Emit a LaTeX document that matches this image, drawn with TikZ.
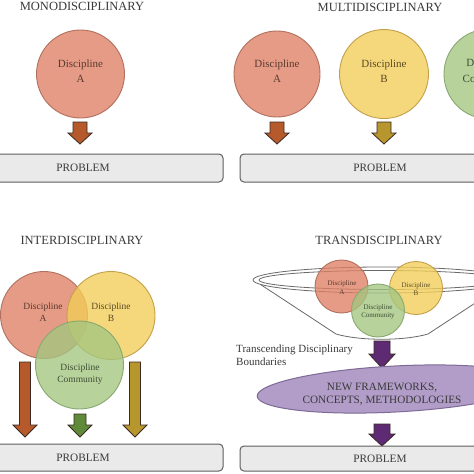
\documentclass[tikz,border=0pt]{standalone}
\usepackage{fontspec}
\setmainfont{Liberation Serif}
\usetikzlibrary{shapes.geometric}
\definecolor{cA}{HTML}{DE8063}
\definecolor{bA}{HTML}{B2705E}
\definecolor{cB}{HTML}{F3CE58}
\definecolor{bB}{HTML}{C4A04A}
\definecolor{cC}{HTML}{A3C680}
\definecolor{bC}{HTML}{8AA872}
\definecolor{tA}{HTML}{5B3A2E}
\definecolor{tB}{HTML}{5A4A24}
\definecolor{tC}{HTML}{3E4E34}
\definecolor{ttlgray}{HTML}{3A3A3A}
\definecolor{boxfill}{HTML}{EAEAEA}
\definecolor{boxdraw}{HTML}{5E5E5E}
\definecolor{arrA}{HTML}{B65A2C}
\definecolor{arrB}{HTML}{B8962E}
\definecolor{arrC}{HTML}{5F8A3A}
\definecolor{arrP}{HTML}{5E2A74}
\definecolor{arrdraw}{HTML}{3A2A22}
\definecolor{ellfill}{HTML}{B29CC8}
\definecolor{elldraw}{HTML}{7E6A96}
\definecolor{funnel}{HTML}{6A6A6A}
\newcommand{\blkarrow}[7]{%
  \filldraw[fill=#7, draw=arrdraw, line width=0.8, line join=miter]
    (#1-#5,#2) -- (#1+#5,#2) -- (#1+#5,#3) -- (#1+#6,#3) -- (#1,#4)
    -- (#1-#6,#3) -- (#1-#5,#3) -- cycle;}
\begin{document}
\begin{tikzpicture}[x=1pt,y=-1pt,
  ttl/.style={text=ttlgray, font=\fontsize{12.5}{14}\selectfont, inner sep=0},
  disc/.style={circle, inner sep=0, line width=0.9, fill opacity=0.78},
  dA/.style={disc, draw=bA, fill=cA},
  dB/.style={disc, draw=bB, fill=cB},
  dC/.style={disc, draw=bC, fill=cC},
  lbl/.style={align=center, inner sep=0},
  probbox/.style={draw=boxdraw, fill=boxfill, rounded corners=4, line width=1,
    minimum width=280, text=ttlgray, font=\fontsize{11.3}{13}\selectfont}]
\useasboundingbox (0,0) rectangle (474,474);
\clip (0,0) rectangle (474,474);
\fill[white] (0,0) rectangle (474,474);

% ---------- MONODISCIPLINARY ----------
\node[ttl] (t1) at (82,6) {MONODISCIPLINARY};
\node[dA, minimum size=88] (mA) at (80.5,74) {};
\node[lbl, text=tA, font=\fontsize{11}{15.5}\selectfont] (mAt) at (80.5,71) {Discipline\\A};
\blkarrow{80}{122}{133}{144}{7}{12}{arrA}
\node[probbox, minimum height=28] (mP) at (83,168) {PROBLEM};

% ---------- MULTIDISCIPLINARY ----------
\node[ttl] (t2) at (380,7) {MULTIDISCIPLINARY};
\node[dA, minimum size=86] (uA) at (277,74) {};
\node[lbl, text=tA, font=\fontsize{11}{15.5}\selectfont] (uAt) at (277,71) {Discipline\\A};
\node[dB, minimum size=89] (uB) at (384,74) {};
\node[lbl, text=tB, font=\fontsize{11}{15.5}\selectfont] (uBt) at (384,71) {Discipline\\B};
\node[dC, minimum size=90] (uC) at (489,74) {};
\node[lbl, text=tC, font=\fontsize{11}{15.5}\selectfont] (uCt) at (489,72) {Discipline\\Community};
\blkarrow{277}{122}{133}{144}{7}{12}{arrA}
\blkarrow{384}{122}{133}{144}{7}{12}{arrB}
\node[probbox, minimum height=28] (uP) at (380,168) {PROBLEM};

% ---------- INTERDISCIPLINARY ----------
\node[ttl] (t3) at (82,240) {INTERDISCIPLINARY};
\node[dA, minimum size=87] (iA) at (44,315) {};
\node[dB, minimum size=88] (iB) at (111,315.5) {};
\node[dC, minimum size=88] (iC) at (79.5,365) {};
\node[lbl, text=tA, font=\fontsize{9.5}{11.5}\selectfont] (iAt) at (43,312) {Discipline\\A};
\node[lbl, text=tB, font=\fontsize{9.5}{11.5}\selectfont] (iBt) at (111,312) {Discipline\\B};
\node[lbl, text=tC, font=\fontsize{9.5}{12}\selectfont] (iCt) at (80,374) {Discipline\\Community};
\blkarrow{25}{362}{425}{437}{5.5}{12}{arrA}
\blkarrow{80}{414}{425}{437}{6}{12}{arrC}
\blkarrow{135}{362}{425}{437}{5.5}{12}{arrB}
\node[probbox, minimum height=27] (iP) at (83,457.5) {PROBLEM};

% ---------- TRANSDISCIPLINARY ----------
\node[ttl] (t4) at (379,240) {TRANSDISCIPLINARY};
\draw[funnel, line width=0.8] (382,280) ellipse [x radius=129, y radius=13];
\draw[funnel, line width=0.8] (382,280) ellipse [x radius=123, y radius=9.5];
\draw[funnel, line width=0.8] (261,284.8) -- (336,334)
  .. controls (360,341) and (404,341) .. (428,334) -- (503,284.8);
\node[dA, minimum size=53] (rA) at (341.5,286.5) {};
\node[dB, minimum size=53] (rB) at (416,288) {};
\node[dC, minimum size=53] (rC) at (378,310.5) {};
\node[lbl, text=tA, font=\fontsize{7}{8.5}\selectfont] (rAt) at (342,287.5) {Discipline\\A};
\node[lbl, text=tB, font=\fontsize{7}{8.5}\selectfont] (rBt) at (416,289) {Discipline\\B};
\node[lbl, text=tC, font=\fontsize{7}{8.5}\selectfont] (rCt) at (378,312) {Discipline\\Community};
\node[anchor=west, align=left, inner sep=0, text=ttlgray,
  font=\fontsize{11}{13}\selectfont] (tb) at (236,355.5) {Transcending Disciplinary\\Boundaries};
\blkarrow{382}{341}{354}{368}{8}{13}{arrP}
\node[ellipse, draw=elldraw, fill=ellfill, line width=1, rotate=3,
  minimum width=276, minimum height=46, inner sep=0] (nf) at (395,389) {};
\node[lbl, text=ttlgray, font=\fontsize{11.2}{12.5}\selectfont] (nft) at (382,394)
  {NEW FRAMEWORKS,\\CONCEPTS, METHODOLOGIES};
\blkarrow{382}{424}{434}{446}{8}{13}{arrP}
\node[probbox, minimum height=25] (rP) at (380,458.5) {PROBLEM};
\end{tikzpicture}
\end{document}
